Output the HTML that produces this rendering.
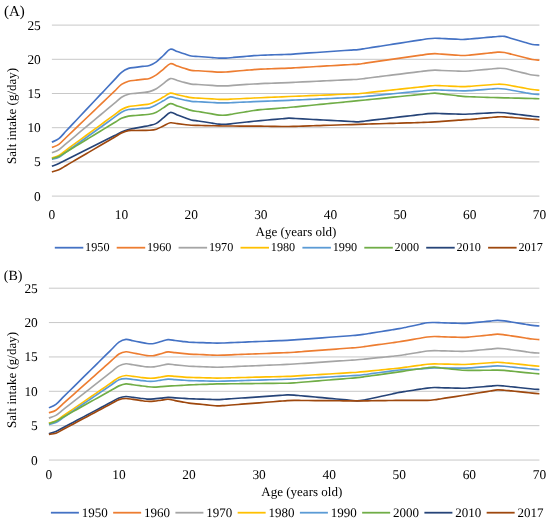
<!DOCTYPE html>
<html><head><meta charset="utf-8"><title>Salt intake by age</title>
<style>
html,body{margin:0;padding:0;background:#fff;}
body{width:550px;height:521px;overflow:hidden;}
svg{display:block;font-family:"Liberation Serif", serif;fill:#000;text-rendering:geometricPrecision;will-change:transform;}
</style></head>
<body>
<svg width="550" height="521" viewBox="0 0 550 521">
<rect x="0" y="0" width="550" height="521" fill="#fff"/>
<text x="4" y="15.5" font-size="15">(A)</text>
<line x1="51.90" y1="196.10" x2="539.40" y2="196.10" stroke="#C8C8C8" stroke-width="1"/>
<text x="40.80" y="200.60" text-anchor="end" font-size="13.4">0</text>
<line x1="51.90" y1="161.90" x2="539.40" y2="161.90" stroke="#C8C8C8" stroke-width="1"/>
<text x="40.80" y="166.40" text-anchor="end" font-size="13.4">5</text>
<line x1="51.90" y1="127.70" x2="539.40" y2="127.70" stroke="#C8C8C8" stroke-width="1"/>
<text x="40.80" y="132.20" text-anchor="end" font-size="13.4">10</text>
<line x1="51.90" y1="93.50" x2="539.40" y2="93.50" stroke="#C8C8C8" stroke-width="1"/>
<text x="40.80" y="98.00" text-anchor="end" font-size="13.4">15</text>
<line x1="51.90" y1="59.30" x2="539.40" y2="59.30" stroke="#C8C8C8" stroke-width="1"/>
<text x="40.80" y="63.80" text-anchor="end" font-size="13.4">20</text>
<line x1="51.90" y1="25.10" x2="539.40" y2="25.10" stroke="#C8C8C8" stroke-width="1"/>
<text x="40.80" y="29.60" text-anchor="end" font-size="13.4">25</text>
<text x="51.90" y="219.20" text-anchor="middle" font-size="13.4">0</text>
<text x="121.54" y="219.20" text-anchor="middle" font-size="13.4">10</text>
<text x="191.19" y="219.20" text-anchor="middle" font-size="13.4">20</text>
<text x="260.83" y="219.20" text-anchor="middle" font-size="13.4">30</text>
<text x="330.47" y="219.20" text-anchor="middle" font-size="13.4">40</text>
<text x="400.11" y="219.20" text-anchor="middle" font-size="13.4">50</text>
<text x="469.76" y="219.20" text-anchor="middle" font-size="13.4">60</text>
<text x="539.40" y="219.20" text-anchor="middle" font-size="13.4">70</text>
<text x="296.00" y="235.80" text-anchor="middle" font-size="13">Age (years old)</text>
<text transform="translate(16.20,115.90) rotate(-90)" x="0" y="0" text-anchor="middle" font-size="13">Salt intake (g/day)</text>
<path d="M51.90,142.20 C53.06,141.61 56.54,140.47 58.86,138.64 C61.19,136.82 63.51,133.73 65.83,131.27 C68.15,128.81 70.47,126.36 72.79,123.90 C75.11,121.44 77.44,118.99 79.76,116.53 C82.08,114.07 84.40,111.61 86.72,109.16 C89.04,106.70 91.36,104.24 93.69,101.78 C96.01,99.33 98.33,96.87 100.65,94.41 C102.97,91.95 105.29,89.50 107.61,87.04 C109.94,84.58 112.26,82.13 114.58,79.67 C116.90,77.21 119.22,74.17 121.54,72.30 C123.86,70.42 126.19,69.21 128.51,68.40 C130.83,67.58 133.15,67.74 135.47,67.42 C137.79,67.09 140.11,66.76 142.44,66.44 C144.76,66.11 147.08,66.22 149.40,65.46 C151.72,64.69 154.04,63.49 156.36,61.83 C158.69,60.17 161.01,57.61 163.33,55.50 C165.65,53.39 167.97,49.85 170.29,49.18 C172.61,48.51 174.94,50.72 177.26,51.49 C179.58,52.26 181.90,53.06 184.22,53.80 C186.54,54.54 188.86,55.49 191.19,55.94 C193.51,56.38 195.83,56.30 198.15,56.49 C200.47,56.67 202.79,56.85 205.11,57.04 C207.44,57.22 209.76,57.40 212.08,57.59 C214.40,57.77 216.72,58.05 219.04,58.14 C221.36,58.22 223.69,58.21 226.01,58.10 C228.33,57.99 230.65,57.69 232.97,57.49 C235.29,57.28 237.61,57.08 239.94,56.87 C242.26,56.67 244.58,56.46 246.90,56.26 C249.22,56.05 251.54,55.81 253.86,55.64 C256.19,55.47 258.51,55.33 260.83,55.23 C263.15,55.12 265.47,55.08 267.79,55.01 C270.11,54.94 272.44,54.87 274.76,54.80 C277.08,54.73 279.40,54.66 281.72,54.59 C284.04,54.52 286.36,54.49 288.69,54.38 C291.01,54.26 293.33,54.06 295.65,53.90 C297.97,53.74 300.29,53.58 302.61,53.42 C304.94,53.26 307.26,53.10 309.58,52.94 C311.90,52.78 314.22,52.62 316.54,52.46 C318.86,52.30 321.19,52.14 323.51,51.98 C325.83,51.82 328.15,51.66 330.47,51.50 C332.79,51.34 335.11,51.18 337.44,51.02 C339.76,50.86 342.08,50.70 344.40,50.54 C346.72,50.39 349.04,50.23 351.36,50.07 C353.69,49.91 356.01,49.85 358.33,49.59 C360.65,49.33 362.97,48.87 365.29,48.51 C367.61,48.15 369.94,47.79 372.26,47.43 C374.58,47.07 376.90,46.71 379.22,46.35 C381.54,45.98 383.86,45.62 386.19,45.26 C388.51,44.90 390.83,44.54 393.15,44.18 C395.47,43.82 397.79,43.46 400.11,43.10 C402.44,42.74 404.76,42.38 407.08,42.02 C409.40,41.66 411.72,41.30 414.04,40.94 C416.36,40.58 418.69,40.22 421.01,39.86 C423.33,39.50 425.65,39.05 427.97,38.78 C430.29,38.51 432.61,38.27 434.94,38.23 C437.26,38.19 439.58,38.44 441.90,38.54 C444.22,38.64 446.54,38.75 448.86,38.85 C451.19,38.95 453.51,39.05 455.83,39.16 C458.15,39.26 460.47,39.49 462.79,39.46 C465.11,39.44 467.44,39.17 469.76,38.99 C472.08,38.80 474.40,38.57 476.72,38.37 C479.04,38.16 481.36,37.96 483.69,37.75 C486.01,37.55 488.33,37.34 490.65,37.14 C492.97,36.93 495.29,36.65 497.61,36.52 C499.94,36.40 502.26,36.07 504.58,36.39 C506.90,36.70 509.22,37.74 511.54,38.42 C513.86,39.10 516.19,39.78 518.51,40.46 C520.83,41.13 523.15,41.81 525.47,42.49 C527.79,43.17 530.11,44.11 532.44,44.53 C534.76,44.94 538.24,44.92 539.40,45.00" fill="none" stroke="#4472C4" stroke-width="1.65" stroke-linejoin="round" stroke-linecap="butt"/>
<path d="M51.90,147.60 C53.06,147.07 56.54,146.04 58.86,144.39 C61.19,142.74 63.51,139.95 65.83,137.72 C68.15,135.50 70.47,133.28 72.79,131.06 C75.11,128.84 77.44,126.62 79.76,124.39 C82.08,122.17 84.40,119.95 86.72,117.73 C89.04,115.51 91.36,113.29 93.69,111.06 C96.01,108.84 98.33,106.62 100.65,104.40 C102.97,102.18 105.29,99.95 107.61,97.73 C109.94,95.51 112.26,93.29 114.58,91.07 C116.90,88.85 119.22,86.05 121.54,84.40 C123.86,82.76 126.19,81.88 128.51,81.19 C130.83,80.50 133.15,80.58 135.47,80.28 C137.79,79.97 140.11,79.67 142.44,79.36 C144.76,79.06 147.08,79.20 149.40,78.45 C151.72,77.71 154.04,76.42 156.36,74.90 C158.69,73.37 161.01,71.16 163.33,69.29 C165.65,67.42 167.97,64.23 170.29,63.68 C172.61,63.12 174.94,65.20 177.26,65.97 C179.58,66.73 181.90,67.52 184.22,68.25 C186.54,68.99 188.86,69.93 191.19,70.36 C193.51,70.78 195.83,70.64 198.15,70.79 C200.47,70.93 202.79,71.07 205.11,71.22 C207.44,71.36 209.76,71.51 212.08,71.65 C214.40,71.79 216.72,72.02 219.04,72.08 C221.36,72.14 223.69,72.11 226.01,72.00 C228.33,71.88 230.65,71.59 232.97,71.39 C235.29,71.19 237.61,70.99 239.94,70.79 C242.26,70.59 244.58,70.39 246.90,70.19 C249.22,69.99 251.54,69.76 253.86,69.59 C256.19,69.42 258.51,69.28 260.83,69.16 C263.15,69.05 265.47,69.00 267.79,68.92 C270.11,68.84 272.44,68.76 274.76,68.68 C277.08,68.60 279.40,68.52 281.72,68.44 C284.04,68.35 286.36,68.30 288.69,68.19 C291.01,68.08 293.33,67.92 295.65,67.78 C297.97,67.64 300.29,67.51 302.61,67.37 C304.94,67.23 307.26,67.10 309.58,66.96 C311.90,66.82 314.22,66.69 316.54,66.55 C318.86,66.41 321.19,66.28 323.51,66.14 C325.83,66.00 328.15,65.87 330.47,65.73 C332.79,65.59 335.11,65.46 337.44,65.32 C339.76,65.18 342.08,65.05 344.40,64.91 C346.72,64.77 349.04,64.64 351.36,64.50 C353.69,64.36 356.01,64.32 358.33,64.09 C360.65,63.85 362.97,63.43 365.29,63.10 C367.61,62.77 369.94,62.43 372.26,62.10 C374.58,61.77 376.90,61.44 379.22,61.11 C381.54,60.78 383.86,60.45 386.19,60.12 C388.51,59.79 390.83,59.46 393.15,59.13 C395.47,58.80 397.79,58.47 400.11,58.14 C402.44,57.81 404.76,57.48 407.08,57.15 C409.40,56.81 411.72,56.48 414.04,56.15 C416.36,55.82 418.69,55.49 421.01,55.16 C423.33,54.83 425.65,54.42 427.97,54.17 C430.29,53.92 432.61,53.69 434.94,53.69 C437.26,53.69 439.58,54.00 441.90,54.15 C444.22,54.31 446.54,54.46 448.86,54.61 C451.19,54.77 453.51,54.92 455.83,55.08 C458.15,55.23 460.47,55.54 462.79,55.54 C465.11,55.54 467.44,55.26 469.76,55.06 C472.08,54.86 474.40,54.58 476.72,54.34 C479.04,54.10 481.36,53.86 483.69,53.62 C486.01,53.38 488.33,53.14 490.65,52.90 C492.97,52.67 495.29,52.26 497.61,52.19 C499.94,52.11 502.26,52.12 504.58,52.46 C506.90,52.80 509.22,53.63 511.54,54.22 C513.86,54.81 516.19,55.40 518.51,55.98 C520.83,56.57 523.15,57.16 525.47,57.74 C527.79,58.33 530.11,59.10 532.44,59.51 C534.76,59.91 538.24,60.08 539.40,60.19" fill="none" stroke="#ED7D31" stroke-width="1.65" stroke-linejoin="round" stroke-linecap="butt"/>
<path d="M51.90,152.80 C53.06,152.29 56.54,151.21 58.86,149.72 C61.19,148.24 63.51,145.84 65.83,143.90 C68.15,141.95 70.47,140.01 72.79,138.07 C75.11,136.12 77.44,134.18 79.76,132.24 C82.08,130.29 84.40,128.35 86.72,126.41 C89.04,124.46 91.36,122.52 93.69,120.58 C96.01,118.64 98.33,116.69 100.65,114.75 C102.97,112.81 105.29,110.86 107.61,108.92 C109.94,106.98 112.26,105.03 114.58,103.09 C116.90,101.15 119.22,98.75 121.54,97.26 C123.86,95.78 126.19,94.84 128.51,94.18 C130.83,93.53 133.15,93.61 135.47,93.32 C137.79,93.03 140.11,92.74 142.44,92.45 C144.76,92.16 147.08,92.21 149.40,91.58 C151.72,90.96 154.04,90.03 156.36,88.71 C158.69,87.39 161.01,85.34 163.33,83.65 C165.65,81.96 167.97,79.12 170.29,78.59 C172.61,78.06 174.94,79.85 177.26,80.48 C179.58,81.10 181.90,81.76 184.22,82.36 C186.54,82.97 188.86,83.74 191.19,84.11 C193.51,84.47 195.83,84.40 198.15,84.55 C200.47,84.70 202.79,84.85 205.11,85.00 C207.44,85.15 209.76,85.29 212.08,85.44 C214.40,85.59 216.72,85.82 219.04,85.89 C221.36,85.96 223.69,85.96 226.01,85.87 C228.33,85.79 230.65,85.55 232.97,85.39 C235.29,85.24 237.61,85.08 239.94,84.92 C242.26,84.76 244.58,84.60 246.90,84.44 C249.22,84.28 251.54,84.10 253.86,83.96 C256.19,83.82 258.51,83.69 260.83,83.59 C263.15,83.49 265.47,83.42 267.79,83.33 C270.11,83.25 272.44,83.16 274.76,83.07 C277.08,82.99 279.40,82.90 281.72,82.81 C284.04,82.73 286.36,82.65 288.69,82.56 C291.01,82.46 293.33,82.34 295.65,82.23 C297.97,82.12 300.29,82.01 302.61,81.90 C304.94,81.79 307.26,81.68 309.58,81.57 C311.90,81.46 314.22,81.35 316.54,81.24 C318.86,81.13 321.19,81.02 323.51,80.91 C325.83,80.80 328.15,80.70 330.47,80.59 C332.79,80.48 335.11,80.37 337.44,80.26 C339.76,80.15 342.08,80.04 344.40,79.93 C346.72,79.82 349.04,79.71 351.36,79.60 C353.69,79.49 356.01,79.47 358.33,79.27 C360.65,79.07 362.97,78.69 365.29,78.40 C367.61,78.11 369.94,77.82 372.26,77.54 C374.58,77.25 376.90,76.96 379.22,76.67 C381.54,76.38 383.86,76.09 386.19,75.80 C388.51,75.51 390.83,75.22 393.15,74.93 C395.47,74.64 397.79,74.35 400.11,74.06 C402.44,73.77 404.76,73.48 407.08,73.19 C409.40,72.90 411.72,72.61 414.04,72.32 C416.36,72.03 418.69,71.74 421.01,71.45 C423.33,71.17 425.65,70.80 427.97,70.59 C430.29,70.37 432.61,70.20 434.94,70.18 C437.26,70.15 439.58,70.36 441.90,70.45 C444.22,70.54 446.54,70.63 448.86,70.72 C451.19,70.81 453.51,70.91 455.83,71.00 C458.15,71.09 460.47,71.28 462.79,71.27 C465.11,71.26 467.44,71.09 469.76,70.93 C472.08,70.76 474.40,70.49 476.72,70.28 C479.04,70.06 481.36,69.84 483.69,69.63 C486.01,69.41 488.33,69.20 490.65,68.98 C492.97,68.76 495.29,68.40 497.61,68.33 C499.94,68.25 502.26,68.23 504.58,68.53 C506.90,68.84 509.22,69.62 511.54,70.16 C513.86,70.70 516.19,71.24 518.51,71.78 C520.83,72.32 523.15,72.87 525.47,73.41 C527.79,73.95 530.11,74.64 532.44,75.03 C534.76,75.43 538.24,75.66 539.40,75.78" fill="none" stroke="#A5A5A5" stroke-width="1.65" stroke-linejoin="round" stroke-linecap="butt"/>
<path d="M51.90,158.00 C53.06,157.57 56.54,156.69 58.86,155.40 C61.19,154.12 63.51,152.00 65.83,150.30 C68.15,148.60 70.47,146.90 72.79,145.20 C75.11,143.50 77.44,141.80 79.76,140.10 C82.08,138.40 84.40,136.70 86.72,135.00 C89.04,133.30 91.36,131.60 93.69,129.90 C96.01,128.20 98.33,126.50 100.65,124.80 C102.97,123.10 105.29,121.40 107.61,119.70 C109.94,118.00 112.26,116.31 114.58,114.61 C116.90,112.91 119.22,110.83 121.54,109.51 C123.86,108.18 126.19,107.26 128.51,106.63 C130.83,106.01 133.15,106.06 135.47,105.77 C137.79,105.48 140.11,105.19 142.44,104.90 C144.76,104.61 147.08,104.68 149.40,104.03 C151.72,103.39 154.04,102.18 156.36,101.02 C158.69,99.87 161.01,98.40 163.33,97.09 C165.65,95.78 167.97,93.56 170.29,93.16 C172.61,92.76 174.94,94.18 177.26,94.69 C179.58,95.20 181.90,95.73 184.22,96.22 C186.54,96.72 188.86,97.34 191.19,97.65 C193.51,97.95 195.83,97.92 198.15,98.06 C200.47,98.20 202.79,98.34 205.11,98.48 C207.44,98.62 209.76,98.76 212.08,98.89 C214.40,99.03 216.72,99.23 219.04,99.31 C221.36,99.39 223.69,99.40 226.01,99.36 C228.33,99.31 230.65,99.14 232.97,99.03 C235.29,98.92 237.61,98.81 239.94,98.70 C242.26,98.59 244.58,98.48 246.90,98.37 C249.22,98.26 251.54,98.15 253.86,98.04 C256.19,97.93 258.51,97.83 260.83,97.73 C263.15,97.62 265.47,97.52 267.79,97.42 C270.11,97.32 272.44,97.22 274.76,97.12 C277.08,97.02 279.40,96.91 281.72,96.81 C284.04,96.71 286.36,96.61 288.69,96.51 C291.01,96.41 293.33,96.32 295.65,96.23 C297.97,96.14 300.29,96.04 302.61,95.95 C304.94,95.86 307.26,95.76 309.58,95.67 C311.90,95.57 314.22,95.48 316.54,95.39 C318.86,95.29 321.19,95.20 323.51,95.11 C325.83,95.01 328.15,94.92 330.47,94.83 C332.79,94.73 335.11,94.64 337.44,94.55 C339.76,94.45 342.08,94.36 344.40,94.27 C346.72,94.17 349.04,94.08 351.36,93.99 C353.69,93.89 356.01,93.88 358.33,93.71 C360.65,93.53 362.97,93.20 365.29,92.95 C367.61,92.69 369.94,92.44 372.26,92.19 C374.58,91.93 376.90,91.68 379.22,91.43 C381.54,91.17 383.86,90.92 386.19,90.67 C388.51,90.42 390.83,90.16 393.15,89.91 C395.47,89.66 397.79,89.40 400.11,89.15 C402.44,88.90 404.76,88.64 407.08,88.39 C409.40,88.14 411.72,87.88 414.04,87.63 C416.36,87.38 418.69,87.13 421.01,86.87 C423.33,86.62 425.65,86.34 427.97,86.11 C430.29,85.88 432.61,85.55 434.94,85.50 C437.26,85.44 439.58,85.69 441.90,85.79 C444.22,85.88 446.54,85.98 448.86,86.08 C451.19,86.18 453.51,86.27 455.83,86.37 C458.15,86.47 460.47,86.67 462.79,86.66 C465.11,86.65 467.44,86.46 469.76,86.32 C472.08,86.17 474.40,85.96 476.72,85.79 C479.04,85.61 481.36,85.43 483.69,85.26 C486.01,85.08 488.33,84.90 490.65,84.73 C492.97,84.55 495.29,84.24 497.61,84.20 C499.94,84.15 502.26,84.21 504.58,84.47 C506.90,84.73 509.22,85.31 511.54,85.74 C513.86,86.16 516.19,86.58 518.51,87.00 C520.83,87.42 523.15,87.85 525.47,88.27 C527.79,88.69 530.11,89.20 532.44,89.53 C534.76,89.87 538.24,90.16 539.40,90.29" fill="none" stroke="#FFC000" stroke-width="1.65" stroke-linejoin="round" stroke-linecap="butt"/>
<path d="M51.90,159.30 C53.06,158.97 56.54,158.48 58.86,157.32 C61.19,156.15 63.51,153.97 65.83,152.30 C68.15,150.63 70.47,148.96 72.79,147.29 C75.11,145.61 77.44,143.94 79.76,142.27 C82.08,140.60 84.40,138.93 86.72,137.25 C89.04,135.58 91.36,133.91 93.69,132.24 C96.01,130.57 98.33,128.89 100.65,127.22 C102.97,125.55 105.29,123.88 107.61,122.21 C109.94,120.53 112.26,118.86 114.58,117.19 C116.90,115.52 119.22,113.45 121.54,112.17 C123.86,110.89 126.19,110.04 128.51,109.51 C130.83,108.97 133.15,109.14 135.47,108.96 C137.79,108.78 140.11,108.59 142.44,108.41 C144.76,108.23 147.08,108.48 149.40,107.86 C151.72,107.25 154.04,105.89 156.36,104.72 C158.69,103.54 161.01,102.12 163.33,100.82 C165.65,99.52 167.97,97.32 170.29,96.92 C172.61,96.52 174.94,97.93 177.26,98.43 C179.58,98.93 181.90,99.45 184.22,99.94 C186.54,100.42 188.86,101.04 191.19,101.34 C193.51,101.63 195.83,101.59 198.15,101.72 C200.47,101.85 202.79,101.98 205.11,102.11 C207.44,102.24 209.76,102.37 212.08,102.50 C214.40,102.62 216.72,102.81 219.04,102.88 C221.36,102.95 223.69,102.97 226.01,102.92 C228.33,102.87 230.65,102.71 232.97,102.60 C235.29,102.50 237.61,102.39 239.94,102.29 C242.26,102.18 244.58,102.08 246.90,101.97 C249.22,101.87 251.54,101.76 253.86,101.66 C256.19,101.56 258.51,101.46 260.83,101.37 C263.15,101.28 265.47,101.20 267.79,101.12 C270.11,101.03 272.44,100.94 274.76,100.86 C277.08,100.77 279.40,100.68 281.72,100.60 C284.04,100.51 286.36,100.44 288.69,100.34 C291.01,100.24 293.33,100.13 295.65,100.03 C297.97,99.92 300.29,99.82 302.61,99.71 C304.94,99.61 307.26,99.50 309.58,99.40 C311.90,99.29 314.22,99.19 316.54,99.08 C318.86,98.98 321.19,98.87 323.51,98.77 C325.83,98.66 328.15,98.56 330.47,98.45 C332.79,98.35 335.11,98.24 337.44,98.14 C339.76,98.03 342.08,97.93 344.40,97.82 C346.72,97.72 349.04,97.61 351.36,97.51 C353.69,97.40 356.01,97.36 358.33,97.19 C360.65,97.03 362.97,96.73 365.29,96.50 C367.61,96.27 369.94,96.04 372.26,95.81 C374.58,95.58 376.90,95.35 379.22,95.12 C381.54,94.89 383.86,94.66 386.19,94.43 C388.51,94.20 390.83,93.97 393.15,93.74 C395.47,93.51 397.79,93.28 400.11,93.05 C402.44,92.82 404.76,92.59 407.08,92.36 C409.40,92.13 411.72,91.90 414.04,91.67 C416.36,91.44 418.69,91.21 421.01,90.98 C423.33,90.75 425.65,90.47 427.97,90.29 C430.29,90.10 432.61,89.90 434.94,89.87 C437.26,89.85 439.58,90.05 441.90,90.13 C444.22,90.22 446.54,90.30 448.86,90.39 C451.19,90.47 453.51,90.56 455.83,90.64 C458.15,90.73 460.47,90.90 462.79,90.90 C465.11,90.90 467.44,90.76 469.76,90.63 C472.08,90.49 474.40,90.27 476.72,90.10 C479.04,89.92 481.36,89.74 483.69,89.57 C486.01,89.39 488.33,89.21 490.65,89.04 C492.97,88.86 495.29,88.52 497.61,88.51 C499.94,88.50 502.26,88.70 504.58,88.99 C506.90,89.27 509.22,89.82 511.54,90.23 C513.86,90.65 516.19,91.07 518.51,91.48 C520.83,91.90 523.15,92.31 525.47,92.73 C527.79,93.15 530.11,93.68 532.44,93.98 C534.76,94.28 538.24,94.43 539.40,94.53" fill="none" stroke="#5B9BD5" stroke-width="1.65" stroke-linejoin="round" stroke-linecap="butt"/>
<path d="M51.90,158.62 C53.06,158.25 56.54,157.50 58.86,156.43 C61.19,155.36 63.51,153.61 65.83,152.19 C68.15,150.78 70.47,149.37 72.79,147.96 C75.11,146.55 77.44,145.14 79.76,143.73 C82.08,142.32 84.40,140.91 86.72,139.50 C89.04,138.08 91.36,136.67 93.69,135.26 C96.01,133.85 98.33,132.44 100.65,131.03 C102.97,129.62 105.29,128.21 107.61,126.80 C109.94,125.38 112.26,123.97 114.58,122.56 C116.90,121.15 119.22,119.41 121.54,118.33 C123.86,117.25 126.19,116.55 128.51,116.07 C130.83,115.60 133.15,115.68 135.47,115.48 C137.79,115.28 140.11,115.08 142.44,114.89 C144.76,114.69 147.08,114.75 149.40,114.29 C151.72,113.84 154.04,113.24 156.36,112.17 C158.69,111.11 161.01,109.32 163.33,107.90 C165.65,106.47 167.97,103.95 170.29,103.62 C172.61,103.29 174.94,105.15 177.26,105.91 C179.58,106.67 181.90,107.45 184.22,108.20 C186.54,108.94 188.86,109.82 191.19,110.38 C193.51,110.93 195.83,111.16 198.15,111.55 C200.47,111.94 202.79,112.33 205.11,112.72 C207.44,113.12 209.76,113.51 212.08,113.90 C214.40,114.29 216.72,114.88 219.04,115.07 C221.36,115.27 223.69,115.28 226.01,115.09 C228.33,114.90 230.65,114.32 232.97,113.94 C235.29,113.55 237.61,113.17 239.94,112.79 C242.26,112.41 244.58,112.02 246.90,111.64 C249.22,111.26 251.54,110.82 253.86,110.49 C256.19,110.16 258.51,109.88 260.83,109.65 C263.15,109.42 265.47,109.30 267.79,109.12 C270.11,108.94 272.44,108.76 274.76,108.59 C277.08,108.41 279.40,108.23 281.72,108.05 C284.04,107.88 286.36,107.72 288.69,107.52 C291.01,107.32 293.33,107.07 295.65,106.84 C297.97,106.61 300.29,106.38 302.61,106.15 C304.94,105.93 307.26,105.70 309.58,105.47 C311.90,105.24 314.22,105.01 316.54,104.79 C318.86,104.56 321.19,104.33 323.51,104.10 C325.83,103.87 328.15,103.65 330.47,103.42 C332.79,103.19 335.11,102.96 337.44,102.73 C339.76,102.51 342.08,102.28 344.40,102.05 C346.72,101.82 349.04,101.59 351.36,101.37 C353.69,101.14 356.01,100.91 358.33,100.68 C360.65,100.45 362.97,100.22 365.29,99.98 C367.61,99.75 369.94,99.52 372.26,99.29 C374.58,99.05 376.90,98.82 379.22,98.59 C381.54,98.36 383.86,98.12 386.19,97.89 C388.51,97.66 390.83,97.43 393.15,97.19 C395.47,96.96 397.79,96.73 400.11,96.50 C402.44,96.26 404.76,96.03 407.08,95.80 C409.40,95.57 411.72,95.33 414.04,95.10 C416.36,94.87 418.69,94.64 421.01,94.40 C423.33,94.17 425.65,93.92 427.97,93.71 C430.29,93.49 432.61,93.06 434.94,93.09 C437.26,93.12 439.58,93.64 441.90,93.91 C444.22,94.18 446.54,94.46 448.86,94.73 C451.19,95.00 453.51,95.28 455.83,95.55 C458.15,95.83 460.47,96.17 462.79,96.37 C465.11,96.58 467.44,96.68 469.76,96.78 C472.08,96.89 474.40,96.93 476.72,97.01 C479.04,97.08 481.36,97.15 483.69,97.23 C486.01,97.30 488.33,97.38 490.65,97.45 C492.97,97.52 495.29,97.61 497.61,97.67 C499.94,97.73 502.26,97.76 504.58,97.81 C506.90,97.86 509.22,97.92 511.54,97.98 C513.86,98.04 516.19,98.09 518.51,98.15 C520.83,98.21 523.15,98.27 525.47,98.32 C527.79,98.38 530.11,98.42 532.44,98.49 C534.76,98.57 538.24,98.72 539.40,98.77" fill="none" stroke="#70AD47" stroke-width="1.65" stroke-linejoin="round" stroke-linecap="butt"/>
<path d="M51.90,166.28 C53.06,165.83 56.54,164.64 58.86,163.61 C61.19,162.58 63.51,161.27 65.83,160.11 C68.15,158.94 70.47,157.77 72.79,156.60 C75.11,155.43 77.44,154.27 79.76,153.10 C82.08,151.93 84.40,150.76 86.72,149.60 C89.04,148.43 91.36,147.26 93.69,146.09 C96.01,144.92 98.33,143.76 100.65,142.59 C102.97,141.42 105.29,140.25 107.61,139.08 C109.94,137.92 112.26,136.75 114.58,135.58 C116.90,134.41 119.22,133.09 121.54,132.08 C123.86,131.06 126.19,130.13 128.51,129.48 C130.83,128.82 133.15,128.60 135.47,128.16 C137.79,127.72 140.11,127.27 142.44,126.83 C144.76,126.39 147.08,126.08 149.40,125.51 C151.72,124.94 154.04,124.66 156.36,123.39 C158.69,122.13 161.01,119.74 163.33,117.92 C165.65,116.09 167.97,112.93 170.29,112.45 C172.61,111.96 174.94,114.15 177.26,114.99 C179.58,115.84 181.90,116.72 184.22,117.54 C186.54,118.37 188.86,119.36 191.19,119.94 C193.51,120.52 195.83,120.64 198.15,121.00 C200.47,121.35 202.79,121.70 205.11,122.05 C207.44,122.40 209.76,122.75 212.08,123.11 C214.40,123.46 216.72,123.96 219.04,124.16 C221.36,124.36 223.69,124.41 226.01,124.31 C228.33,124.20 230.65,123.80 232.97,123.54 C235.29,123.29 237.61,123.03 239.94,122.78 C242.26,122.52 244.58,122.26 246.90,122.01 C249.22,121.75 251.54,121.48 253.86,121.24 C256.19,121.00 258.51,120.78 260.83,120.56 C263.15,120.35 265.47,120.17 267.79,119.97 C270.11,119.77 272.44,119.58 274.76,119.38 C277.08,119.18 279.40,118.98 281.72,118.79 C284.04,118.59 286.36,118.23 288.69,118.19 C291.01,118.15 293.33,118.43 295.65,118.55 C297.97,118.68 300.29,118.80 302.61,118.92 C304.94,119.04 307.26,119.16 309.58,119.28 C311.90,119.40 314.22,119.52 316.54,119.64 C318.86,119.76 321.19,119.88 323.51,120.00 C325.83,120.13 328.15,120.25 330.47,120.37 C332.79,120.49 335.11,120.61 337.44,120.73 C339.76,120.85 342.08,120.97 344.40,121.09 C346.72,121.21 349.04,121.33 351.36,121.46 C353.69,121.58 356.01,121.89 358.33,121.82 C360.65,121.74 362.97,121.27 365.29,121.00 C367.61,120.73 369.94,120.46 372.26,120.19 C374.58,119.92 376.90,119.65 379.22,119.38 C381.54,119.10 383.86,118.83 386.19,118.56 C388.51,118.29 390.83,118.02 393.15,117.75 C395.47,117.48 397.79,117.21 400.11,116.93 C402.44,116.66 404.76,116.39 407.08,116.12 C409.40,115.85 411.72,115.58 414.04,115.31 C416.36,115.03 418.69,114.76 421.01,114.49 C423.33,114.22 425.65,113.86 427.97,113.68 C430.29,113.50 432.61,113.42 434.94,113.40 C437.26,113.39 439.58,113.54 441.90,113.61 C444.22,113.68 446.54,113.75 448.86,113.81 C451.19,113.88 453.51,113.95 455.83,114.02 C458.15,114.09 460.47,114.23 462.79,114.23 C465.11,114.23 467.44,114.12 469.76,114.02 C472.08,113.92 474.40,113.77 476.72,113.64 C479.04,113.52 481.36,113.39 483.69,113.27 C486.01,113.14 488.33,113.02 490.65,112.89 C492.97,112.77 495.29,112.53 497.61,112.52 C499.94,112.50 502.26,112.60 504.58,112.79 C506.90,112.98 509.22,113.36 511.54,113.64 C513.86,113.93 516.19,114.21 518.51,114.50 C520.83,114.78 523.15,115.07 525.47,115.35 C527.79,115.64 530.11,115.96 532.44,116.21 C534.76,116.45 538.24,116.72 539.40,116.82" fill="none" stroke="#264478" stroke-width="1.65" stroke-linejoin="round" stroke-linecap="butt"/>
<path d="M51.90,171.89 C53.06,171.53 56.54,170.80 58.86,169.77 C61.19,168.73 63.51,167.05 65.83,165.69 C68.15,164.33 70.47,162.98 72.79,161.62 C75.11,160.26 77.44,158.90 79.76,157.55 C82.08,156.19 84.40,154.83 86.72,153.47 C89.04,152.11 91.36,150.76 93.69,149.40 C96.01,148.04 98.33,146.68 100.65,145.32 C102.97,143.97 105.29,142.61 107.61,141.25 C109.94,139.89 112.26,138.54 114.58,137.18 C116.90,135.82 119.22,134.20 121.54,133.10 C123.86,132.00 126.19,131.01 128.51,130.57 C130.83,130.14 133.15,130.51 135.47,130.48 C137.79,130.45 140.11,130.42 142.44,130.39 C144.76,130.36 147.08,130.50 149.40,130.30 C151.72,130.10 154.04,129.92 156.36,129.20 C158.69,128.49 161.01,127.06 163.33,125.99 C165.65,124.92 167.97,123.17 170.29,122.78 C172.61,122.38 174.94,123.34 177.26,123.62 C179.58,123.91 181.90,124.20 184.22,124.47 C186.54,124.75 188.86,125.10 191.19,125.25 C193.51,125.41 195.83,125.36 198.15,125.42 C200.47,125.47 202.79,125.53 205.11,125.58 C207.44,125.64 209.76,125.69 212.08,125.74 C214.40,125.80 216.72,125.87 219.04,125.91 C221.36,125.95 223.69,125.98 226.01,126.00 C228.33,126.02 230.65,126.02 232.97,126.03 C235.29,126.04 237.61,126.05 239.94,126.06 C242.26,126.07 244.58,126.08 246.90,126.09 C249.22,126.09 251.54,126.10 253.86,126.11 C256.19,126.13 258.51,126.15 260.83,126.17 C263.15,126.20 265.47,126.23 267.79,126.26 C270.11,126.29 272.44,126.32 274.76,126.35 C277.08,126.39 279.40,126.42 281.72,126.45 C284.04,126.48 286.36,126.56 288.69,126.54 C291.01,126.52 293.33,126.39 295.65,126.32 C297.97,126.25 300.29,126.17 302.61,126.10 C304.94,126.03 307.26,125.95 309.58,125.88 C311.90,125.81 314.22,125.73 316.54,125.66 C318.86,125.59 321.19,125.52 323.51,125.44 C325.83,125.37 328.15,125.30 330.47,125.22 C332.79,125.15 335.11,125.08 337.44,125.01 C339.76,124.93 342.08,124.86 344.40,124.79 C346.72,124.71 349.04,124.64 351.36,124.57 C353.69,124.49 356.01,124.42 358.33,124.35 C360.65,124.28 362.97,124.21 365.29,124.14 C367.61,124.07 369.94,124.01 372.26,123.94 C374.58,123.87 376.90,123.80 379.22,123.73 C381.54,123.66 383.86,123.60 386.19,123.53 C388.51,123.46 390.83,123.39 393.15,123.32 C395.47,123.25 397.79,123.19 400.11,123.12 C402.44,123.05 404.76,122.98 407.08,122.91 C409.40,122.84 411.72,122.78 414.04,122.71 C416.36,122.64 418.69,122.57 421.01,122.50 C423.33,122.43 425.65,122.40 427.97,122.30 C430.29,122.19 432.61,122.04 434.94,121.89 C437.26,121.73 439.58,121.54 441.90,121.37 C444.22,121.20 446.54,121.03 448.86,120.86 C451.19,120.69 453.51,120.52 455.83,120.35 C458.15,120.18 460.47,119.98 462.79,119.83 C465.11,119.69 467.44,119.66 469.76,119.49 C472.08,119.32 474.40,119.05 476.72,118.83 C479.04,118.60 481.36,118.38 483.69,118.16 C486.01,117.94 488.33,117.71 490.65,117.49 C492.97,117.27 495.29,116.94 497.61,116.82 C499.94,116.71 502.26,116.72 504.58,116.82 C506.90,116.92 509.22,117.22 511.54,117.42 C513.86,117.62 516.19,117.82 518.51,118.02 C520.83,118.22 523.15,118.42 525.47,118.62 C527.79,118.82 530.11,119.02 532.44,119.22 C534.76,119.42 538.24,119.73 539.40,119.83" fill="none" stroke="#9E480E" stroke-width="1.65" stroke-linejoin="round" stroke-linecap="butt"/>
<line x1="54.80" y1="247.70" x2="83.30" y2="247.70" stroke="#4472C4" stroke-width="1.8"/>
<text x="85.10" y="251.40" font-size="12.2">1950</text>
<line x1="116.70" y1="247.70" x2="145.20" y2="247.70" stroke="#ED7D31" stroke-width="1.8"/>
<text x="147.00" y="251.40" font-size="12.2">1960</text>
<line x1="178.60" y1="247.70" x2="207.10" y2="247.70" stroke="#A5A5A5" stroke-width="1.8"/>
<text x="208.90" y="251.40" font-size="12.2">1970</text>
<line x1="240.50" y1="247.70" x2="269.00" y2="247.70" stroke="#FFC000" stroke-width="1.8"/>
<text x="270.80" y="251.40" font-size="12.2">1980</text>
<line x1="302.40" y1="247.70" x2="330.90" y2="247.70" stroke="#5B9BD5" stroke-width="1.8"/>
<text x="332.70" y="251.40" font-size="12.2">1990</text>
<line x1="364.30" y1="247.70" x2="392.80" y2="247.70" stroke="#70AD47" stroke-width="1.8"/>
<text x="394.60" y="251.40" font-size="12.2">2000</text>
<line x1="426.20" y1="247.70" x2="454.70" y2="247.70" stroke="#264478" stroke-width="1.8"/>
<text x="456.50" y="251.40" font-size="12.2">2010</text>
<line x1="488.10" y1="247.70" x2="516.60" y2="247.70" stroke="#9E480E" stroke-width="1.8"/>
<text x="518.40" y="251.40" font-size="12.2">2017</text>
<text x="3.8" y="280.3" font-size="14">(B)</text>
<line x1="48.90" y1="460.05" x2="539.40" y2="460.05" stroke="#C8C8C8" stroke-width="1"/>
<text x="37.80" y="464.55" text-anchor="end" font-size="13.4">0</text>
<line x1="48.90" y1="425.68" x2="539.40" y2="425.68" stroke="#C8C8C8" stroke-width="1"/>
<text x="37.80" y="430.18" text-anchor="end" font-size="13.4">5</text>
<line x1="48.90" y1="391.31" x2="539.40" y2="391.31" stroke="#C8C8C8" stroke-width="1"/>
<text x="37.80" y="395.81" text-anchor="end" font-size="13.4">10</text>
<line x1="48.90" y1="356.94" x2="539.40" y2="356.94" stroke="#C8C8C8" stroke-width="1"/>
<text x="37.80" y="361.44" text-anchor="end" font-size="13.4">15</text>
<line x1="48.90" y1="322.57" x2="539.40" y2="322.57" stroke="#C8C8C8" stroke-width="1"/>
<text x="37.80" y="327.07" text-anchor="end" font-size="13.4">20</text>
<line x1="48.90" y1="288.20" x2="539.40" y2="288.20" stroke="#C8C8C8" stroke-width="1"/>
<text x="37.80" y="292.70" text-anchor="end" font-size="13.4">25</text>
<text x="48.90" y="479.40" text-anchor="middle" font-size="13.4">0</text>
<text x="118.97" y="479.40" text-anchor="middle" font-size="13.4">10</text>
<text x="189.04" y="479.40" text-anchor="middle" font-size="13.4">20</text>
<text x="259.11" y="479.40" text-anchor="middle" font-size="13.4">30</text>
<text x="329.19" y="479.40" text-anchor="middle" font-size="13.4">40</text>
<text x="399.26" y="479.40" text-anchor="middle" font-size="13.4">50</text>
<text x="469.33" y="479.40" text-anchor="middle" font-size="13.4">60</text>
<text x="539.40" y="479.40" text-anchor="middle" font-size="13.4">70</text>
<text x="301.80" y="495.80" text-anchor="middle" font-size="13">Age (years old)</text>
<text transform="translate(16.20,380.00) rotate(-90)" x="0" y="0" text-anchor="middle" font-size="13">Salt intake (g/day)</text>
<path d="M48.90,407.81 C50.07,407.23 53.57,406.10 55.91,404.37 C58.24,402.64 60.58,399.76 62.91,397.45 C65.25,395.14 67.59,392.84 69.92,390.53 C72.26,388.22 74.59,385.92 76.93,383.61 C79.26,381.30 81.60,379.00 83.94,376.69 C86.27,374.38 88.61,372.08 90.94,369.77 C93.28,367.46 95.61,365.16 97.95,362.85 C100.29,360.55 102.62,358.24 104.96,355.93 C107.29,353.63 109.63,351.32 111.96,349.01 C114.30,346.71 116.64,343.70 118.97,342.09 C121.31,340.48 123.64,339.57 125.98,339.34 C128.31,339.12 130.65,340.27 132.99,340.74 C135.32,341.21 137.66,341.67 139.99,342.14 C142.33,342.60 144.66,343.30 147.00,343.54 C149.34,343.77 151.67,343.86 154.01,343.54 C156.34,343.21 158.68,342.23 161.01,341.58 C163.35,340.92 165.69,339.80 168.02,339.62 C170.36,339.44 172.69,340.20 175.03,340.49 C177.36,340.78 179.70,341.07 182.04,341.36 C184.37,341.65 186.71,342.05 189.04,342.23 C191.38,342.41 193.71,342.38 196.05,342.46 C198.39,342.54 200.72,342.61 203.06,342.69 C205.39,342.76 207.73,342.84 210.06,342.92 C212.40,342.99 214.74,343.14 217.07,343.15 C219.41,343.15 221.74,343.04 224.08,342.96 C226.41,342.88 228.75,342.77 231.09,342.67 C233.42,342.57 235.76,342.48 238.09,342.38 C240.43,342.28 242.76,342.19 245.10,342.09 C247.44,341.99 249.77,341.90 252.11,341.80 C254.44,341.70 256.78,341.61 259.11,341.51 C261.45,341.41 263.79,341.32 266.12,341.22 C268.46,341.12 270.79,341.03 273.13,340.93 C275.46,340.84 277.80,340.74 280.14,340.64 C282.47,340.55 284.81,340.47 287.14,340.35 C289.48,340.23 291.81,340.08 294.15,339.92 C296.49,339.76 298.82,339.57 301.16,339.39 C303.49,339.22 305.83,339.04 308.16,338.86 C310.50,338.69 312.84,338.51 315.17,338.34 C317.51,338.16 319.84,337.98 322.18,337.81 C324.51,337.63 326.85,337.46 329.19,337.28 C331.52,337.11 333.86,336.93 336.19,336.75 C338.53,336.58 340.86,336.40 343.20,336.23 C345.54,336.05 347.87,335.87 350.21,335.70 C352.54,335.52 354.88,335.41 357.21,335.17 C359.55,334.93 361.89,334.57 364.22,334.23 C366.56,333.89 368.89,333.49 371.23,333.12 C373.56,332.75 375.90,332.38 378.24,332.00 C380.57,331.63 382.91,331.26 385.24,330.89 C387.58,330.52 389.91,330.15 392.25,329.78 C394.59,329.40 396.92,329.09 399.26,328.66 C401.59,328.23 403.93,327.70 406.26,327.20 C408.60,326.71 410.94,326.20 413.27,325.70 C415.61,325.20 417.94,324.71 420.28,324.21 C422.61,323.71 424.95,322.99 427.29,322.71 C429.62,322.42 431.96,322.50 434.29,322.50 C436.63,322.50 438.96,322.65 441.30,322.72 C443.64,322.80 445.97,322.87 448.31,322.95 C450.64,323.02 452.98,323.10 455.31,323.17 C457.65,323.25 459.99,323.40 462.32,323.39 C464.66,323.39 466.99,323.28 469.33,323.12 C471.66,322.96 474.00,322.66 476.34,322.43 C478.67,322.20 481.01,321.97 483.34,321.75 C485.68,321.52 488.01,321.29 490.35,321.06 C492.69,320.83 495.02,320.40 497.36,320.37 C499.69,320.34 502.03,320.58 504.36,320.85 C506.70,321.12 509.04,321.61 511.37,321.99 C513.71,322.36 516.04,322.74 518.38,323.12 C520.71,323.50 523.05,323.88 525.39,324.25 C527.72,324.63 530.06,325.10 532.39,325.39 C534.73,325.68 538.23,325.90 539.40,326.01" fill="none" stroke="#4472C4" stroke-width="1.65" stroke-linejoin="round" stroke-linecap="butt"/>
<path d="M48.90,412.83 C50.07,412.39 53.57,411.69 55.91,410.21 C58.24,408.74 60.58,406.05 62.91,403.97 C65.25,401.88 67.59,399.80 69.92,397.72 C72.26,395.64 74.59,393.55 76.93,391.47 C79.26,389.39 81.60,387.31 83.94,385.22 C86.27,383.14 88.61,381.06 90.94,378.97 C93.28,376.89 95.61,374.81 97.95,372.73 C100.29,370.64 102.62,368.56 104.96,366.48 C107.29,364.40 109.63,362.31 111.96,360.23 C114.30,358.15 116.64,355.40 118.97,353.98 C121.31,352.56 123.64,351.88 125.98,351.72 C128.31,351.55 130.65,352.57 132.99,353.00 C135.32,353.43 137.66,353.85 139.99,354.28 C142.33,354.71 144.66,355.35 147.00,355.57 C149.34,355.78 151.67,355.87 154.01,355.57 C156.34,355.26 158.68,354.35 161.01,353.74 C163.35,353.14 165.69,352.10 168.02,351.92 C170.36,351.74 172.69,352.41 175.03,352.66 C177.36,352.90 179.70,353.14 182.04,353.39 C184.37,353.63 186.71,353.95 189.04,354.12 C191.38,354.29 193.71,354.31 196.05,354.40 C198.39,354.49 200.72,354.59 203.06,354.68 C205.39,354.77 207.73,354.86 210.06,354.96 C212.40,355.05 214.74,355.21 217.07,355.23 C219.41,355.25 221.74,355.15 224.08,355.07 C226.41,355.00 228.75,354.89 231.09,354.81 C233.42,354.72 235.76,354.63 238.09,354.54 C240.43,354.45 242.76,354.36 245.10,354.27 C247.44,354.18 249.77,354.09 252.11,354.00 C254.44,353.91 256.78,353.82 259.11,353.73 C261.45,353.64 263.79,353.55 266.12,353.46 C268.46,353.37 270.79,353.28 273.13,353.19 C275.46,353.10 277.80,353.01 280.14,352.92 C282.47,352.83 284.81,352.76 287.14,352.65 C289.48,352.53 291.81,352.38 294.15,352.22 C296.49,352.07 298.82,351.87 301.16,351.70 C303.49,351.52 305.83,351.34 308.16,351.17 C310.50,350.99 312.84,350.82 315.17,350.64 C317.51,350.47 319.84,350.29 322.18,350.11 C324.51,349.94 326.85,349.76 329.19,349.59 C331.52,349.41 333.86,349.23 336.19,349.06 C338.53,348.88 340.86,348.71 343.20,348.53 C345.54,348.35 347.87,348.18 350.21,348.00 C352.54,347.83 354.88,347.70 357.21,347.47 C359.55,347.25 361.89,346.94 364.22,346.64 C366.56,346.33 368.89,345.99 371.23,345.66 C373.56,345.34 375.90,345.02 378.24,344.69 C380.57,344.37 382.91,344.04 385.24,343.72 C387.58,343.40 389.91,343.07 392.25,342.75 C394.59,342.42 396.92,342.13 399.26,341.78 C401.59,341.42 403.93,341.00 406.26,340.60 C408.60,340.21 410.94,339.80 413.27,339.40 C415.61,339.00 417.94,338.60 420.28,338.20 C422.61,337.80 424.95,337.29 427.29,337.01 C429.62,336.73 431.96,336.57 434.29,336.52 C436.63,336.48 438.96,336.67 441.30,336.75 C443.64,336.82 445.97,336.90 448.31,336.97 C450.64,337.05 452.98,337.12 455.31,337.19 C457.65,337.27 459.99,337.45 462.32,337.42 C464.66,337.39 466.99,337.19 469.33,337.01 C471.66,336.82 474.00,336.54 476.34,336.30 C478.67,336.07 481.01,335.83 483.34,335.60 C485.68,335.36 488.01,335.13 490.35,334.89 C492.69,334.66 495.02,334.20 497.36,334.19 C499.69,334.17 502.03,334.53 504.36,334.81 C506.70,335.08 509.04,335.50 511.37,335.85 C513.71,336.20 516.04,336.55 518.38,336.90 C520.71,337.25 523.05,337.60 525.39,337.95 C527.72,338.30 530.06,338.72 532.39,339.00 C534.73,339.28 538.23,339.51 539.40,339.62" fill="none" stroke="#ED7D31" stroke-width="1.65" stroke-linejoin="round" stroke-linecap="butt"/>
<path d="M48.90,418.12 C50.07,417.66 53.57,416.74 55.91,415.37 C58.24,413.99 60.58,411.70 62.91,409.87 C65.25,408.04 67.59,406.20 69.92,404.37 C72.26,402.54 74.59,400.70 76.93,398.87 C79.26,397.04 81.60,395.21 83.94,393.37 C86.27,391.54 88.61,389.71 90.94,387.87 C93.28,386.04 95.61,384.21 97.95,382.37 C100.29,380.54 102.62,378.71 104.96,376.87 C107.29,375.04 109.63,373.21 111.96,371.38 C114.30,369.54 116.64,367.15 118.97,365.88 C121.31,364.60 123.64,363.93 125.98,363.75 C128.31,363.56 130.65,364.43 132.99,364.78 C135.32,365.12 137.66,365.46 139.99,365.81 C142.33,366.15 144.66,366.67 147.00,366.84 C149.34,367.01 151.67,367.06 154.01,366.84 C156.34,366.62 158.68,365.94 161.01,365.50 C163.35,365.05 165.69,364.27 168.02,364.16 C170.36,364.05 172.69,364.62 175.03,364.85 C177.36,365.07 179.70,365.30 182.04,365.53 C184.37,365.76 186.71,366.06 189.04,366.22 C191.38,366.38 193.71,366.38 196.05,366.47 C198.39,366.55 200.72,366.63 203.06,366.71 C205.39,366.79 207.73,366.87 210.06,366.96 C212.40,367.04 214.74,367.19 217.07,367.20 C219.41,367.21 221.74,367.10 224.08,367.02 C226.41,366.94 228.75,366.83 231.09,366.73 C233.42,366.63 235.76,366.54 238.09,366.44 C240.43,366.34 242.76,366.25 245.10,366.15 C247.44,366.05 249.77,365.96 252.11,365.86 C254.44,365.76 256.78,365.67 259.11,365.57 C261.45,365.47 263.79,365.38 266.12,365.28 C268.46,365.18 270.79,365.09 273.13,364.99 C275.46,364.89 277.80,364.80 280.14,364.70 C282.47,364.60 284.81,364.53 287.14,364.41 C289.48,364.30 291.81,364.16 294.15,364.01 C296.49,363.87 298.82,363.70 301.16,363.54 C303.49,363.38 305.83,363.22 308.16,363.07 C310.50,362.91 312.84,362.75 315.17,362.60 C317.51,362.44 319.84,362.28 322.18,362.12 C324.51,361.97 326.85,361.81 329.19,361.65 C331.52,361.49 333.86,361.34 336.19,361.18 C338.53,361.02 340.86,360.86 343.20,360.71 C345.54,360.55 347.87,360.39 350.21,360.23 C352.54,360.08 354.88,359.95 357.21,359.76 C359.55,359.58 361.89,359.34 364.22,359.11 C366.56,358.89 368.89,358.63 371.23,358.39 C373.56,358.15 375.90,357.91 378.24,357.67 C380.57,357.43 382.91,357.19 385.24,356.95 C387.58,356.70 389.91,356.46 392.25,356.22 C394.59,355.98 396.92,355.80 399.26,355.50 C401.59,355.20 403.93,354.78 406.26,354.41 C408.60,354.04 410.94,353.66 413.27,353.28 C415.61,352.91 417.94,352.53 420.28,352.16 C422.61,351.78 424.95,351.27 427.29,351.03 C429.62,350.78 431.96,350.71 434.29,350.68 C436.63,350.66 438.96,350.80 441.30,350.86 C443.64,350.91 445.97,350.97 448.31,351.03 C450.64,351.09 452.98,351.14 455.31,351.20 C457.65,351.26 459.99,351.40 462.32,351.37 C464.66,351.34 466.99,351.19 469.33,351.03 C471.66,350.86 474.00,350.59 476.34,350.38 C478.67,350.16 481.01,349.94 483.34,349.72 C485.68,349.50 488.01,349.29 490.35,349.07 C492.69,348.85 495.02,348.47 497.36,348.42 C499.69,348.36 502.03,348.54 504.36,348.76 C506.70,348.98 509.04,349.40 511.37,349.72 C513.71,350.04 516.04,350.36 518.38,350.68 C520.71,351.01 523.05,351.33 525.39,351.65 C527.72,351.97 530.06,352.37 532.39,352.61 C534.73,352.85 538.23,353.01 539.40,353.09" fill="none" stroke="#A5A5A5" stroke-width="1.65" stroke-linejoin="round" stroke-linecap="butt"/>
<path d="M48.90,423.14 C50.07,422.76 53.57,422.05 55.91,420.87 C58.24,419.69 60.58,417.65 62.91,416.04 C65.25,414.43 67.59,412.82 69.92,411.21 C72.26,409.61 74.59,408.00 76.93,406.39 C79.26,404.78 81.60,403.17 83.94,401.56 C86.27,399.95 88.61,398.34 90.94,396.73 C93.28,395.12 95.61,393.51 97.95,391.91 C100.29,390.30 102.62,388.69 104.96,387.08 C107.29,385.47 109.63,383.86 111.96,382.25 C114.30,380.64 116.64,378.55 118.97,377.42 C121.31,376.30 123.64,375.68 125.98,375.50 C128.31,375.32 130.65,376.08 132.99,376.37 C135.32,376.66 137.66,376.95 139.99,377.24 C142.33,377.53 144.66,377.97 147.00,378.11 C149.34,378.26 151.67,378.30 154.01,378.11 C156.34,377.93 158.68,377.38 161.01,377.01 C163.35,376.65 165.69,376.01 168.02,375.91 C170.36,375.81 172.69,376.25 175.03,376.42 C177.36,376.58 179.70,376.75 182.04,376.92 C184.37,377.09 186.71,377.31 189.04,377.42 C191.38,377.54 193.71,377.53 196.05,377.59 C198.39,377.64 200.72,377.70 203.06,377.75 C205.39,377.81 207.73,377.86 210.06,377.92 C212.40,377.97 214.74,378.07 217.07,378.08 C219.41,378.09 221.74,378.02 224.08,377.97 C226.41,377.92 228.75,377.85 231.09,377.80 C233.42,377.74 235.76,377.68 238.09,377.62 C240.43,377.56 242.76,377.50 245.10,377.45 C247.44,377.39 249.77,377.33 252.11,377.27 C254.44,377.21 256.78,377.15 259.11,377.10 C261.45,377.04 263.79,376.98 266.12,376.92 C268.46,376.86 270.79,376.80 273.13,376.75 C275.46,376.69 277.80,376.63 280.14,376.57 C282.47,376.51 284.81,376.48 287.14,376.39 C289.48,376.31 291.81,376.20 294.15,376.07 C296.49,375.95 298.82,375.79 301.16,375.65 C303.49,375.51 305.83,375.36 308.16,375.22 C310.50,375.08 312.84,374.94 315.17,374.80 C317.51,374.66 319.84,374.52 322.18,374.38 C324.51,374.24 326.85,374.09 329.19,373.95 C331.52,373.81 333.86,373.67 336.19,373.53 C338.53,373.39 340.86,373.25 343.20,373.11 C345.54,372.96 347.87,372.82 350.21,372.68 C352.54,372.54 354.88,372.43 357.21,372.26 C359.55,372.08 361.89,371.86 364.22,371.63 C366.56,371.41 368.89,371.16 371.23,370.92 C373.56,370.69 375.90,370.45 378.24,370.21 C380.57,369.97 382.91,369.74 385.24,369.50 C387.58,369.26 389.91,369.03 392.25,368.79 C394.59,368.55 396.92,368.35 399.26,368.08 C401.59,367.80 403.93,367.45 406.26,367.13 C408.60,366.82 410.94,366.49 413.27,366.17 C415.61,365.84 417.94,365.52 420.28,365.20 C422.61,364.87 424.95,364.45 427.29,364.23 C429.62,364.01 431.96,363.91 434.29,363.88 C436.63,363.85 438.96,363.99 441.30,364.04 C443.64,364.09 445.97,364.14 448.31,364.19 C450.64,364.24 452.98,364.30 455.31,364.35 C457.65,364.40 459.99,364.52 462.32,364.50 C464.66,364.48 466.99,364.35 469.33,364.23 C471.66,364.10 474.00,363.91 476.34,363.75 C478.67,363.58 481.01,363.42 483.34,363.26 C485.68,363.10 488.01,362.94 490.35,362.78 C492.69,362.62 495.02,362.31 497.36,362.30 C499.69,362.29 502.03,362.53 504.36,362.71 C506.70,362.90 509.04,363.20 511.37,363.44 C513.71,363.68 516.04,363.92 518.38,364.16 C520.71,364.40 523.05,364.64 525.39,364.88 C527.72,365.12 530.06,365.38 532.39,365.60 C534.73,365.82 538.23,366.12 539.40,366.22" fill="none" stroke="#FFC000" stroke-width="1.65" stroke-linejoin="round" stroke-linecap="butt"/>
<path d="M48.90,424.51 C50.07,424.19 53.57,423.70 55.91,422.59 C58.24,421.47 60.58,419.41 62.91,417.82 C65.25,416.23 67.59,414.64 69.92,413.05 C72.26,411.47 74.59,409.88 76.93,408.29 C79.26,406.70 81.60,405.11 83.94,403.52 C86.27,401.93 88.61,400.35 90.94,398.76 C93.28,397.17 95.61,395.58 97.95,393.99 C100.29,392.40 102.62,390.81 104.96,389.22 C107.29,387.64 109.63,386.05 111.96,384.46 C114.30,382.87 116.64,380.67 118.97,379.69 C121.31,378.72 123.64,378.63 125.98,378.59 C128.31,378.55 130.65,379.17 132.99,379.46 C135.32,379.75 137.66,380.04 139.99,380.33 C142.33,380.62 144.66,381.06 147.00,381.21 C149.34,381.35 151.67,381.38 154.01,381.21 C156.34,381.03 158.68,380.52 161.01,380.17 C163.35,379.83 165.69,379.23 168.02,379.14 C170.36,379.05 172.69,379.46 175.03,379.62 C177.36,379.78 179.70,379.94 182.04,380.11 C184.37,380.27 186.71,380.48 189.04,380.59 C191.38,380.69 193.71,380.70 196.05,380.75 C198.39,380.80 200.72,380.86 203.06,380.91 C205.39,380.97 207.73,381.02 210.06,381.08 C212.40,381.13 214.74,381.24 217.07,381.24 C219.41,381.25 221.74,381.17 224.08,381.11 C226.41,381.06 228.75,380.98 231.09,380.91 C233.42,380.84 235.76,380.78 238.09,380.71 C240.43,380.64 242.76,380.57 245.10,380.51 C247.44,380.44 249.77,380.37 252.11,380.30 C254.44,380.24 256.78,380.17 259.11,380.10 C261.45,380.03 263.79,379.97 266.12,379.90 C268.46,379.83 270.79,379.76 273.13,379.70 C275.46,379.63 277.80,379.56 280.14,379.49 C282.47,379.43 284.81,379.38 287.14,379.29 C289.48,379.21 291.81,379.09 294.15,378.97 C296.49,378.85 298.82,378.70 301.16,378.57 C303.49,378.43 305.83,378.30 308.16,378.16 C310.50,378.03 312.84,377.90 315.17,377.76 C317.51,377.63 319.84,377.49 322.18,377.36 C324.51,377.23 326.85,377.09 329.19,376.96 C331.52,376.82 333.86,376.69 336.19,376.55 C338.53,376.42 340.86,376.29 343.20,376.15 C345.54,376.02 347.87,375.88 350.21,375.75 C352.54,375.61 354.88,375.54 357.21,375.35 C359.55,375.15 361.89,374.86 364.22,374.59 C366.56,374.31 368.89,373.98 371.23,373.67 C373.56,373.37 375.90,373.07 378.24,372.76 C380.57,372.46 382.91,372.15 385.24,371.85 C387.58,371.54 389.91,371.24 392.25,370.94 C394.59,370.63 396.92,370.25 399.26,370.02 C401.59,369.80 403.93,369.72 406.26,369.58 C408.60,369.44 410.94,369.32 413.27,369.20 C415.61,369.07 417.94,368.94 420.28,368.81 C422.61,368.68 424.95,368.55 427.29,368.42 C429.62,368.29 431.96,368.07 434.29,368.01 C436.63,367.94 438.96,368.03 441.30,368.04 C443.64,368.05 445.97,368.06 448.31,368.08 C450.64,368.09 452.98,368.10 455.31,368.11 C457.65,368.12 459.99,368.17 462.32,368.14 C464.66,368.12 466.99,368.06 469.33,367.94 C471.66,367.82 474.00,367.59 476.34,367.42 C478.67,367.25 481.01,367.08 483.34,366.91 C485.68,366.74 488.01,366.56 490.35,366.39 C492.69,366.22 495.02,365.90 497.36,365.88 C499.69,365.85 502.03,366.04 504.36,366.22 C506.70,366.40 509.04,366.71 511.37,366.96 C513.71,367.21 516.04,367.45 518.38,367.70 C520.71,367.94 523.05,368.19 525.39,368.44 C527.72,368.68 530.06,368.95 532.39,369.18 C534.73,369.40 538.23,369.69 539.40,369.79" fill="none" stroke="#5B9BD5" stroke-width="1.65" stroke-linejoin="round" stroke-linecap="butt"/>
<path d="M48.90,423.62 C50.07,423.22 53.57,422.27 55.91,421.21 C58.24,420.16 60.58,418.59 62.91,417.29 C65.25,415.98 67.59,414.67 69.92,413.36 C72.26,412.05 74.59,410.74 76.93,409.43 C79.26,408.13 81.60,406.82 83.94,405.51 C86.27,404.20 88.61,402.89 90.94,401.58 C93.28,400.27 95.61,398.97 97.95,397.66 C100.29,396.35 102.62,395.04 104.96,393.73 C107.29,392.42 109.63,391.11 111.96,389.81 C114.30,388.50 116.64,386.87 118.97,385.88 C121.31,384.89 123.64,384.07 125.98,383.89 C128.31,383.70 130.65,384.48 132.99,384.78 C135.32,385.08 137.66,385.38 139.99,385.67 C142.33,385.97 144.66,386.33 147.00,386.57 C149.34,386.81 151.67,387.11 154.01,387.12 C156.34,387.13 158.68,386.80 161.01,386.64 C163.35,386.48 165.69,386.30 168.02,386.15 C170.36,386.01 172.69,385.88 175.03,385.74 C177.36,385.60 179.70,385.47 182.04,385.33 C184.37,385.19 186.71,385.03 189.04,384.92 C191.38,384.81 193.71,384.75 196.05,384.67 C198.39,384.59 200.72,384.51 203.06,384.43 C205.39,384.34 207.73,384.26 210.06,384.18 C212.40,384.10 214.74,383.99 217.07,383.94 C219.41,383.88 221.74,383.86 224.08,383.83 C226.41,383.80 228.75,383.79 231.09,383.76 C233.42,383.74 235.76,383.72 238.09,383.70 C240.43,383.67 242.76,383.65 245.10,383.63 C247.44,383.61 249.77,383.59 252.11,383.56 C254.44,383.54 256.78,383.52 259.11,383.50 C261.45,383.47 263.79,383.45 266.12,383.43 C268.46,383.41 270.79,383.38 273.13,383.36 C275.46,383.34 277.80,383.32 280.14,383.29 C282.47,383.27 284.81,383.30 287.14,383.23 C289.48,383.15 291.81,383.01 294.15,382.85 C296.49,382.69 298.82,382.47 301.16,382.28 C303.49,382.08 305.83,381.89 308.16,381.70 C310.50,381.51 312.84,381.32 315.17,381.12 C317.51,380.93 319.84,380.74 322.18,380.55 C324.51,380.36 326.85,380.16 329.19,379.97 C331.52,379.78 333.86,379.59 336.19,379.40 C338.53,379.20 340.86,379.01 343.20,378.82 C345.54,378.63 347.87,378.43 350.21,378.24 C352.54,378.05 354.88,377.91 357.21,377.67 C359.55,377.43 361.89,377.11 364.22,376.80 C366.56,376.49 368.89,376.13 371.23,375.80 C373.56,375.47 375.90,375.14 378.24,374.81 C380.57,374.47 382.91,374.14 385.24,373.81 C387.58,373.48 389.91,373.15 392.25,372.81 C394.59,372.48 396.92,372.15 399.26,371.82 C401.59,371.48 403.93,371.14 406.26,370.80 C408.60,370.46 410.94,370.12 413.27,369.78 C415.61,369.44 417.94,369.10 420.28,368.75 C422.61,368.41 424.95,367.99 427.29,367.73 C429.62,367.47 431.96,367.15 434.29,367.18 C436.63,367.22 438.96,367.70 441.30,367.96 C443.64,368.21 445.97,368.47 448.31,368.73 C450.64,368.99 452.98,369.24 455.31,369.50 C457.65,369.76 459.99,370.12 462.32,370.28 C464.66,370.43 466.99,370.40 469.33,370.41 C471.66,370.42 474.00,370.37 476.34,370.34 C478.67,370.32 481.01,370.30 483.34,370.28 C485.68,370.25 488.01,370.23 490.35,370.21 C492.69,370.18 495.02,370.10 497.36,370.14 C499.69,370.17 502.03,370.25 504.36,370.41 C506.70,370.58 509.04,370.89 511.37,371.13 C513.71,371.38 516.04,371.62 518.38,371.86 C520.71,372.10 523.05,372.34 525.39,372.58 C527.72,372.82 530.06,373.08 532.39,373.30 C534.73,373.52 538.23,373.82 539.40,373.92" fill="none" stroke="#70AD47" stroke-width="1.65" stroke-linejoin="round" stroke-linecap="butt"/>
<path d="M48.90,433.72 C50.07,433.36 53.57,432.51 55.91,431.52 C58.24,430.54 60.58,429.04 62.91,427.80 C65.25,426.55 67.59,425.31 69.92,424.07 C72.26,422.83 74.59,421.58 76.93,420.34 C79.26,419.10 81.60,417.86 83.94,416.61 C86.27,415.37 88.61,414.13 90.94,412.89 C93.28,411.64 95.61,410.40 97.95,409.16 C100.29,407.92 102.62,406.67 104.96,405.43 C107.29,404.19 109.63,402.95 111.96,401.71 C114.30,400.46 116.64,398.84 118.97,397.98 C121.31,397.12 123.64,396.63 125.98,396.53 C128.31,396.43 130.65,397.10 132.99,397.38 C135.32,397.66 137.66,397.95 139.99,398.23 C142.33,398.51 144.66,398.97 147.00,399.08 C149.34,399.18 151.67,399.03 154.01,398.87 C156.34,398.71 158.68,398.37 161.01,398.12 C163.35,397.86 165.69,397.41 168.02,397.36 C170.36,397.31 172.69,397.66 175.03,397.82 C177.36,397.97 179.70,398.12 182.04,398.28 C184.37,398.43 186.71,398.62 189.04,398.73 C191.38,398.85 193.71,398.88 196.05,398.95 C198.39,399.02 200.72,399.09 203.06,399.16 C205.39,399.23 207.73,399.30 210.06,399.37 C212.40,399.44 214.74,399.61 217.07,399.58 C219.41,399.56 221.74,399.38 224.08,399.24 C226.41,399.11 228.75,398.93 231.09,398.77 C233.42,398.61 235.76,398.45 238.09,398.29 C240.43,398.13 242.76,397.97 245.10,397.81 C247.44,397.65 249.77,397.49 252.11,397.33 C254.44,397.17 256.78,397.01 259.11,396.85 C261.45,396.69 263.79,396.53 266.12,396.37 C268.46,396.21 270.79,396.05 273.13,395.90 C275.46,395.74 277.80,395.58 280.14,395.42 C282.47,395.26 284.81,394.99 287.14,394.94 C289.48,394.89 291.81,394.99 294.15,395.13 C296.49,395.27 298.82,395.56 301.16,395.77 C303.49,395.98 305.83,396.19 308.16,396.41 C310.50,396.62 312.84,396.83 315.17,397.05 C317.51,397.26 319.84,397.47 322.18,397.69 C324.51,397.90 326.85,398.11 329.19,398.32 C331.52,398.54 333.86,398.75 336.19,398.96 C338.53,399.18 340.86,399.39 343.20,399.60 C345.54,399.81 347.87,400.03 350.21,400.24 C352.54,400.45 354.88,400.92 357.21,400.88 C359.55,400.84 361.89,400.41 364.22,400.01 C366.56,399.61 368.89,399.00 371.23,398.49 C373.56,397.99 375.90,397.48 378.24,396.98 C380.57,396.47 382.91,395.96 385.24,395.46 C387.58,394.95 389.91,394.45 392.25,393.94 C394.59,393.44 396.92,392.86 399.26,392.42 C401.59,391.98 403.93,391.67 406.26,391.30 C408.60,390.94 410.94,390.59 413.27,390.23 C415.61,389.87 417.94,389.51 420.28,389.15 C422.61,388.80 424.95,388.35 427.29,388.08 C429.62,387.81 431.96,387.59 434.29,387.53 C436.63,387.47 438.96,387.66 441.30,387.72 C443.64,387.78 445.97,387.84 448.31,387.91 C450.64,387.97 452.98,388.03 455.31,388.10 C457.65,388.16 459.99,388.32 462.32,388.29 C464.66,388.25 466.99,388.04 469.33,387.87 C471.66,387.71 474.00,387.48 476.34,387.29 C478.67,387.09 481.01,386.90 483.34,386.70 C485.68,386.51 488.01,386.31 490.35,386.12 C492.69,385.93 495.02,385.55 497.36,385.54 C499.69,385.52 502.03,385.81 504.36,386.02 C506.70,386.22 509.04,386.52 511.37,386.77 C513.71,387.03 516.04,387.28 518.38,387.53 C520.71,387.78 523.05,388.03 525.39,388.29 C527.72,388.54 530.06,388.84 532.39,389.04 C534.73,389.25 538.23,389.44 539.40,389.52" fill="none" stroke="#264478" stroke-width="1.65" stroke-linejoin="round" stroke-linecap="butt"/>
<path d="M48.90,434.41 C50.07,434.22 53.57,434.06 55.91,433.24 C58.24,432.42 60.58,430.75 62.91,429.51 C65.25,428.26 67.59,427.02 69.92,425.77 C72.26,424.53 74.59,423.28 76.93,422.04 C79.26,420.79 81.60,419.55 83.94,418.30 C86.27,417.06 88.61,415.81 90.94,414.57 C93.28,413.32 95.61,412.08 97.95,410.83 C100.29,409.59 102.62,408.34 104.96,407.10 C107.29,405.85 109.63,404.61 111.96,403.36 C114.30,402.12 116.64,400.44 118.97,399.63 C121.31,398.81 123.64,398.50 125.98,398.46 C128.31,398.42 130.65,399.09 132.99,399.40 C135.32,399.71 137.66,400.02 139.99,400.34 C142.33,400.65 144.66,401.14 147.00,401.28 C149.34,401.41 151.67,401.32 154.01,401.14 C156.34,400.96 158.68,400.52 161.01,400.21 C163.35,399.90 165.69,399.22 168.02,399.28 C170.36,399.34 172.69,400.14 175.03,400.57 C177.36,400.99 179.70,401.42 182.04,401.85 C184.37,402.28 186.71,402.80 189.04,403.13 C191.38,403.46 193.71,403.59 196.05,403.82 C198.39,404.05 200.72,404.28 203.06,404.51 C205.39,404.74 207.73,404.97 210.06,405.20 C212.40,405.42 214.74,405.82 217.07,405.88 C219.41,405.95 221.74,405.72 224.08,405.58 C226.41,405.44 228.75,405.21 231.09,405.03 C233.42,404.84 235.76,404.66 238.09,404.47 C240.43,404.29 242.76,404.10 245.10,403.92 C247.44,403.74 249.77,403.55 252.11,403.37 C254.44,403.18 256.78,403.00 259.11,402.82 C261.45,402.63 263.79,402.45 266.12,402.26 C268.46,402.08 270.79,401.89 273.13,401.71 C275.46,401.53 277.80,401.34 280.14,401.16 C282.47,400.97 284.81,400.73 287.14,400.60 C289.48,400.48 291.81,400.44 294.15,400.42 C296.49,400.39 298.82,400.45 301.16,400.47 C303.49,400.49 305.83,400.51 308.16,400.53 C310.50,400.55 312.84,400.57 315.17,400.58 C317.51,400.60 319.84,400.62 322.18,400.64 C324.51,400.66 326.85,400.68 329.19,400.69 C331.52,400.71 333.86,400.73 336.19,400.75 C338.53,400.77 340.86,400.79 343.20,400.81 C345.54,400.82 347.87,400.84 350.21,400.86 C352.54,400.88 354.88,400.92 357.21,400.92 C359.55,400.92 361.89,400.89 364.22,400.87 C366.56,400.84 368.89,400.80 371.23,400.77 C373.56,400.74 375.90,400.71 378.24,400.68 C380.57,400.65 382.91,400.61 385.24,400.58 C387.58,400.55 389.91,400.52 392.25,400.49 C394.59,400.46 396.92,400.41 399.26,400.39 C401.59,400.38 403.93,400.39 406.26,400.38 C408.60,400.38 410.94,400.38 413.27,400.38 C415.61,400.38 417.94,400.38 420.28,400.38 C422.61,400.38 424.95,400.49 427.29,400.38 C429.62,400.28 431.96,400.05 434.29,399.77 C436.63,399.48 438.96,399.05 441.30,398.70 C443.64,398.34 445.97,397.99 448.31,397.63 C450.64,397.28 452.98,396.92 455.31,396.57 C457.65,396.21 459.99,395.86 462.32,395.50 C464.66,395.14 466.99,394.77 469.33,394.40 C471.66,394.03 474.00,393.66 476.34,393.29 C478.67,392.91 481.01,392.54 483.34,392.17 C485.68,391.80 488.01,391.42 490.35,391.05 C492.69,390.68 495.02,390.08 497.36,389.94 C499.69,389.79 502.03,390.04 504.36,390.21 C506.70,390.38 509.04,390.69 511.37,390.93 C513.71,391.17 516.04,391.41 518.38,391.65 C520.71,391.89 523.05,392.13 525.39,392.38 C527.72,392.62 530.06,392.86 532.39,393.10 C534.73,393.33 538.23,393.67 539.40,393.78" fill="none" stroke="#9E480E" stroke-width="1.65" stroke-linejoin="round" stroke-linecap="butt"/>
<line x1="50.90" y1="512.70" x2="78.90" y2="512.70" stroke="#4472C4" stroke-width="1.8"/>
<text x="81.80" y="517.00" font-size="13.0">1950</text>
<line x1="113.15" y1="512.70" x2="141.15" y2="512.70" stroke="#ED7D31" stroke-width="1.8"/>
<text x="144.05" y="517.00" font-size="13.0">1960</text>
<line x1="175.40" y1="512.70" x2="203.40" y2="512.70" stroke="#A5A5A5" stroke-width="1.8"/>
<text x="206.30" y="517.00" font-size="13.0">1970</text>
<line x1="237.65" y1="512.70" x2="265.65" y2="512.70" stroke="#FFC000" stroke-width="1.8"/>
<text x="268.55" y="517.00" font-size="13.0">1980</text>
<line x1="299.90" y1="512.70" x2="327.90" y2="512.70" stroke="#5B9BD5" stroke-width="1.8"/>
<text x="330.80" y="517.00" font-size="13.0">1990</text>
<line x1="362.15" y1="512.70" x2="390.15" y2="512.70" stroke="#70AD47" stroke-width="1.8"/>
<text x="393.05" y="517.00" font-size="13.0">2000</text>
<line x1="424.40" y1="512.70" x2="452.40" y2="512.70" stroke="#264478" stroke-width="1.8"/>
<text x="455.30" y="517.00" font-size="13.0">2010</text>
<line x1="486.65" y1="512.70" x2="514.65" y2="512.70" stroke="#9E480E" stroke-width="1.8"/>
<text x="517.55" y="517.00" font-size="13.0">2017</text>
</svg>
</body></html>
